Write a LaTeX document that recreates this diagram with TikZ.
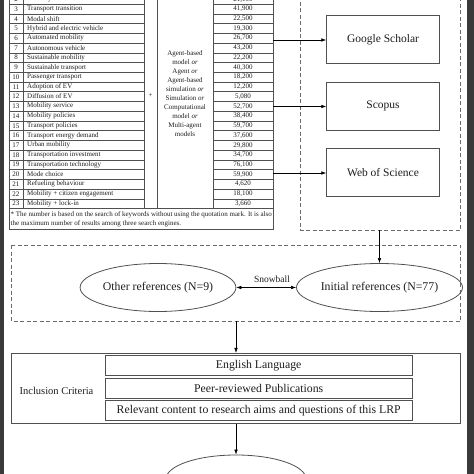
\documentclass[tikz,border=0pt]{standalone}
\usepackage{fontspec}
\setmainfont{Liberation Serif}
\usetikzlibrary{arrows.meta,shapes.geometric}
\definecolor{framecol}{HTML}{3A3A3A}
\definecolor{lncol}{HTML}{505050}
\definecolor{dshcol}{HTML}{6A6A6A}
\definecolor{txtcol}{HTML}{1E1E1E}
\tikzset{
  tbltext/.style={font=\fontsize{7}{9}\selectfont, text=txtcol, inner sep=0pt},
  tblline/.style={draw=lncol, line width=0.45pt},
  tblouter/.style={draw=lncol, line width=0.9pt},
  dashbox/.style={draw=dshcol, line width=0.8pt, dash pattern=on 4pt off 2.5pt},
  srcbox/.style={draw=lncol, line width=0.8pt, minimum width=112.6pt, minimum height=47.8pt, font=\fontsize{11.5}{13}\selectfont, text=txtcol, inner sep=0pt},
  refell/.style={ellipse, draw=lncol, line width=0.8pt, minimum height=48pt, font=\fontsize{11.8}{13}\selectfont, text=txtcol, inner sep=0pt},
  critbox/.style={draw=lncol, line width=0.8pt, minimum width=306.7pt, font=\fontsize{11.8}{13}\selectfont, text=txtcol, inner sep=0pt},
  arr/.style={draw=black, line width=0.6pt, -{Latex[length=5pt,width=3.6pt]}},
  darr/.style={draw=black, line width=0.6pt, {Latex[length=5pt,width=3.6pt]}-{Latex[length=5pt,width=3.6pt]}}
}
\begin{document}
\begin{tikzpicture}[x=1pt,y=-1pt]
\useasboundingbox (0,0) rectangle (474,474);
\clip (0,0) rectangle (474,474);
\fill[white] (0,0) rectangle (474,474);
\fill[framecol] (0,0) rectangle (3.5,474);
\fill[framecol] (467,0) rectangle (474,474);

% ---------- table ----------
\foreach \i in {1,...,22}{
  \pgfmathsetmacro\yb{9+(\i-3)*9.73+4.865}
  \draw[tblline] (9,\yb) -- (144,\yb);
  \draw[tblline] (213,\yb) -- (273,\yb);
}
\draw[tblline] (9,208.5) -- (273,208.5);
\foreach \xx in {23,144,157,213}{
  \draw[tblline] (\xx,-20) -- (\xx,208.5);
}
\draw[tblouter] (9,-20) rectangle (273,229);

\foreach \i/\t/\v in {
  2/Mobility transition/21{,}100,
  3/Transport transition/41{,}900,
  4/Modal shift/22{,}500,
  5/Hybrid and electric vehicle/19{,}300,
  6/Automated mobility/26{,}700,
  7/Autonomous vehicle/43{,}200,
  8/Sustainable mobility/22{,}200,
  9/Sustainable transport/40{,}300,
  10/Passenger transport/18{,}200,
  11/Adoption of EV/12{,}200,
  12/Diffusion of EV/5{,}080,
  13/Mobility service/52{,}700,
  14/Mobility policies/38{,}400,
  15/Transport policies/59{,}700,
  16/Transport energy demand/37{,}600,
  17/Urban mobility/29{,}800,
  18/Transportation investment/34{,}700,
  19/Transportation technology/76{,}100,
  20/Mode choice/59{,}900,
  21/Refueling behaviour/4{,}620,
  22/Mobility + citizen engagement/18{,}100,
  23/Mobility + lock-in/3{,}660}{
  \pgfmathsetmacro\yc{9+(\i-3)*9.73}
  \node[tbltext] (num\i) at (16,\yc) {\i};
  \node[tbltext, anchor=west] (key\i) at (27,\yc) {\t};
  \node[tbltext] (val\i) at (243,\yc) {\v};
}
\node[tbltext] (plus) at (150.5,96) {+};
\node[tbltext, align=center, font=\fontsize{7}{9}\selectfont] (agent) at (185,93.5)
  {Agent-based\\model \textit{or}\\Agent \textit{or}\\Agent-based\\simulation \textit{or}\\Simulation \textit{or}\\Computational\\model \textit{or}\\Multi-agent\\models};
\node[tbltext, anchor=north west, align=left, font=\fontsize{7}{9}\selectfont] (note) at (10.5,211)
  {* The number is based on the search of keywords without using the quotation mark. It is also\\the maximum number of results among three search engines.};

% ---------- search engines ----------
\draw[dashbox] (300.7,-5) -- (300.7,230) -- (460.7,230) -- (460.7,-5);
\node[srcbox] (gs) at (383,39.5) {Google Scholar};
\node[srcbox] (sc) at (383,106.2) {Scopus};
\node[srcbox] (ws) at (383,172.5) {Web of Science};
\coordinate (t1) at (273,40);
\coordinate (t2) at (273,106.5);
\coordinate (t3) at (273,173);
\draw[arr] (t1) -- (t1 -| gs.west);
\draw[arr] (t2) -- (t2 -| sc.west);
\draw[arr] (t3) -- (t3 -| ws.west);

% ---------- references ----------
\draw[dashbox] (11.7,245) rectangle (460.7,321);
\node[refell, minimum width=144pt] (other) at (158,287.5) {Other references (N=9)};
\node[refell, minimum width=147pt] (init) at (379.5,287.5) {Initial references (N=77)};
\coordinate (b1) at (379.5,230);
\draw[arr] (b1) -- (init.north);
\draw[darr] (other.east) -- (init.west);
\node[font=\fontsize{9.5}{11}\selectfont, text=txtcol, inner sep=0pt] (snow) at (272,279) {Snowball};

% ---------- inclusion criteria ----------
\node[draw=lncol, line width=0.8pt, minimum width=449pt, minimum height=70pt, inner sep=0pt] (inc) at (236.2,388.3) {};
\node[critbox, minimum height=19.3pt] (c1) at (258.7,365.3) {English Language};
\node[critbox, minimum height=20pt] (c2) at (258.7,388.3) {Peer-reviewed Publications};
\node[critbox, minimum height=19.3pt] (c3) at (258.7,410.3) {Relevant content to research aims and questions of this LRP};
\node[font=\fontsize{10.5}{12}\selectfont, text=txtcol, inner sep=0pt] (inclab) at (56.5,390.7) {Inclusion Criteria};
\coordinate (b2) at (236,321);
\draw[arr] (b2) -- (b2 |- inc.north);

% ---------- final ----------
\node[ellipse, draw=lncol, line width=0.8pt, minimum width=140pt, minimum height=48pt] (fin) at (236,479) {};
\draw[arr] (inc.south -| fin.north) -- (fin.north);
\end{tikzpicture}
\end{document}
